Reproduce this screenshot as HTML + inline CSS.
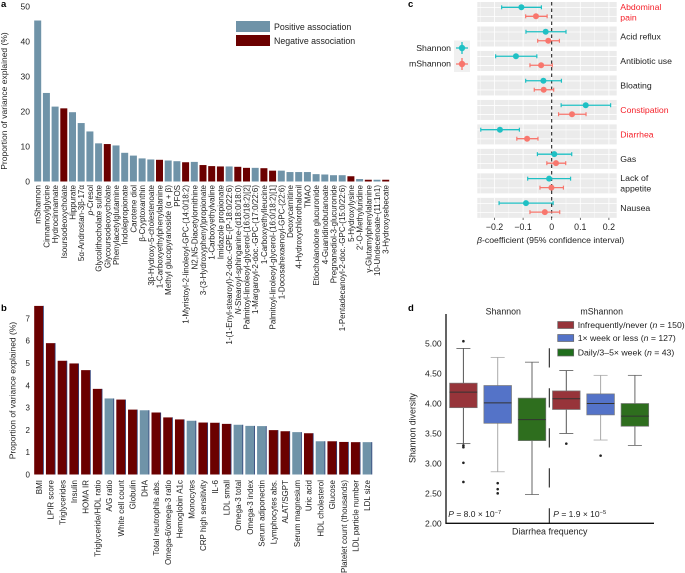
<!DOCTYPE html>
<html lang="en">
<head>
<meta charset="utf-8">
<title>Microbiome diversity associations</title>
<style>
html,body{margin:0;padding:0;background:#fff;overflow:hidden;}
svg{display:block;font-family:"Liberation Sans",Arial,sans-serif;filter:blur(.3px);}
text{fill:#222;}
</style>
</head>
<body>
<svg id="figure" width="685" height="573" viewBox="0 0 685 573" xmlns="http://www.w3.org/2000/svg">
  <rect width="685" height="573" fill="#fff"/>
  <g id="panel-a"></g>
  <g id="panel-b"></g>
  <g id="panel-c"></g>
  <g id="panel-d"></g>

  <text x="1" y="7" font-size="9.5" font-weight="bold" style="fill:#000">a</text>
  <text x="1" y="311" font-size="9.5" font-weight="bold" style="fill:#000">b</text>
  <text x="408" y="7" font-size="9.5" font-weight="bold" style="fill:#000">c</text>
  <text x="408" y="311" font-size="9.5" font-weight="bold" style="fill:#000">d</text>

  <text transform="translate(7 101) rotate(-90)" text-anchor="middle" font-size="8.5">Proportion of variance explained (%)</text>
  <text transform="translate(15.5 390.5) rotate(-90)" text-anchor="middle" font-size="8.5">Proportion of variance explained (%)</text>

  <g>
    <rect x="236" y="21" width="34" height="11" fill="#6f93a8"/>
    <text x="274" y="30" font-size="8.8">Positive association</text>
    <rect x="236" y="35" width="34" height="11" fill="#6b0000"/>
    <text x="274" y="44" font-size="8.8">Negative association</text>
  </g>

  <g>
    <rect x="454" y="40.5" width="16" height="15.5" fill="#f0f0f0"/>
    <rect x="454" y="56" width="16" height="16" fill="#f0f0f0"/>
    <path d="M456 48H468M462 42V54" stroke="#1fc0c4" stroke-width="1.3" fill="none"/>
    <circle cx="462" cy="48" r="3.2" fill="#1fc0c4"/>
    <path d="M456 64H468M462 58V70" stroke="#f8766d" stroke-width="1.3" fill="none"/>
    <circle cx="462" cy="64" r="3.2" fill="#f8766d"/>
    <text x="451" y="51" text-anchor="end" font-size="8.7">Shannon</text>
    <text x="451" y="66.5" text-anchor="end" font-size="8.7">mShannon</text>
  </g>
  <text x="477" y="243" font-size="8.7"><tspan font-style="italic">β</tspan>-coefficient (95% confidence interval)</text>

  <text x="503.3" y="314.5" text-anchor="middle" font-size="8.8">Shannon</text>
  <text x="601.7" y="314.5" text-anchor="middle" font-size="8.8">mShannon</text>
  <text transform="translate(415.5 428) rotate(-90)" text-anchor="middle" font-size="8.8">Shannon diversity</text>
  <text x="549.7" y="534.5" text-anchor="middle" font-size="8.9">Diarrhea frequency</text>
  <text x="448.3" y="517" font-size="8.5"><tspan font-style="italic">P</tspan> = 8.0 × 10<tspan dy="-3" font-size="5.8">−7</tspan></text>
  <text x="553.3" y="517" font-size="8.5"><tspan font-style="italic">P</tspan> = 1.9 × 10<tspan dy="-3" font-size="5.8">−5</tspan></text>
  <g>
    <rect x="557.7" y="321.5" width="16" height="7" fill="#97343a" stroke="#666" stroke-width=".7"/>
    <text x="577.7" y="328" font-size="8.7">Infrequently/never (<tspan font-style="italic">n</tspan> = 150)</text>
    <rect x="557.7" y="334.5" width="16" height="7" fill="#5473c8" stroke="#666" stroke-width=".7"/>
    <text x="577.7" y="341" font-size="8.7">1× week or less (<tspan font-style="italic">n</tspan> = 127)</text>
    <rect x="557.7" y="349" width="16" height="7" fill="#1f6e1c" stroke="#666" stroke-width=".7"/>
    <text x="577.7" y="355.5" font-size="8.7">Daily/3–5× week (<tspan font-style="italic">n</tspan> = 43)</text>
  </g>

<script>
// ---------- Panel a data ----------
const metaboliteNames = ["mShannon","Cinnamoylglycine","Hydrocinnamate","Isoursodeoxycholate","Hippurate","5α-Androstan-3β-17α","p-Cresol","Glycolithocholate sulfate","Glycoursodeoxycholate","Phenylacetylglutamine","Indolepropionate","Carotene diol","β-Cryptoxanthin","3β-Hydroxy-5-cholestenoate","1-Carboxyethylphenylalanine","Methyl glucopyranoside (α + β)","PFOS","1-Myristoyl-2-linoleoyl-GPC-(14:0/18:2)","N2,N5-Diacetylornithine","3-(3-Hydroxyphenyl)propionate","1-Carboxyethylvaline","Imidazole propionate","1-(1-Enyl-stearoyl)-2-doc.-GPE-(P-18:0/22:6)","N-Stearoyl-sphinganine-(d18:0/18:0)","Palmitoyl-linoleoyl-glycerol-(16:0/18:2)[2]","1-Margaroyl-2-doc.-GPC-(17:0/22:6)","1-Carboxyethylleucine","Palmitoyl-linoleoyl-glycerol-(16:0/18:2)[1]","1-Docosahexaenoyl-GPC-(22:6)","Deoxycarnitine","4-Hydroxychlorothalonil","TMAO","Etiocholanolone glucuronide","4-Guanidinobutanoate","Pregnanediol-3-glucuronide","1-Pentadecanoyl-2-doc.-GPC-(15:0/22:6)","5-Hydroxylysine","2′-O-Methyluridine","γ-Glutamylphenylalanine","10-Undecenoate-(11:1n1)","3-Hydroxysebecate"];
const metaboliteValues = [46,25.3,21.4,20.9,19.8,16.7,14.3,10.9,10.7,10.3,8.2,7.4,6.6,6.3,6.2,6.0,5.8,5.5,5.6,4.7,4.4,4.3,4.3,4.2,3.9,3.9,3.8,3.1,3.1,2.7,2.7,2.7,2.1,2.0,1.8,1.8,1.5,0.7,0.5,0.5,0.5];
const metaboliteNegative = [0,0,0,1,0,0,0,0,1,0,0,0,0,0,1,0,0,1,0,1,1,1,0,1,1,0,1,1,0,0,0,0,0,0,0,0,1,0,1,0,1];
const metaboliteTicks = [0,10,20,30,40,50];

// ---------- Panel b data ----------
const clinicalNames = ["BMI","LPIR score","Triglycerides","Insulin","HOMA IR","Triglyceride/HDL ratio","A/G ratio","White cell count","Globulin","DHA","Total neutrophils abs.","Omega-6/omega-3 ratio","Hemoglobin A1c","Monocytes","CRP high sensitivity","IL-6","LDL small","Omega-3 total","Omega-3 index","Serum adiponectin","Lymphocytes abs.","ALAT/SGPT","Serum magnesium","Uric acid","HDL cholesterol","Glucose","Platelet count (thousands)","LDL particle number","LDL size"];
const clinicalValues = [7.56,5.89,5.1,4.98,4.68,3.84,3.41,3.36,2.91,2.88,2.78,2.56,2.47,2.41,2.33,2.32,2.27,2.23,2.18,2.17,1.99,1.94,1.9,1.85,1.49,1.49,1.46,1.45,1.45];
const clinicalNegative = [1,1,1,1,1,1,0,1,1,0,1,1,1,0,1,1,1,0,0,0,1,1,0,1,0,1,1,1,0];
const clinicalTicks = [0,1,2,3,4,5,6,7];

// ---------- Panel c data ----------
const symptoms = ["Abdominal pain","Acid reflux","Antibiotic use","Bloating","Constipation","Diarrhea","Gas","Lack of appetite","Nausea"];
const symptomLines = [["Abdominal","pain"],["Acid reflux"],["Antibiotic use"],["Bloating"],["Constipation"],["Diarrhea"],["Gas"],["Lack of","appetite"],["Nausea"]];
const symptomHighlighted = [1,0,0,0,1,1,0,0,0];
const shannonBeta = [-0.106,-0.021,-0.125,-0.029,0.119,-0.181,0.009,-0.009,-0.09];
const shannonLow = [-0.175,-0.09,-0.196,-0.091,0.033,-0.248,-0.05,-0.084,-0.184];
const shannonHigh = [-0.036,0.05,-0.052,0.034,0.206,-0.113,0.07,0.066,0.005];
const mShannonBeta = [-0.055,-0.012,-0.037,-0.028,0.071,-0.086,0.015,-0.001,-0.024];
const mShannonLow = [-0.091,-0.049,-0.076,-0.061,0.024,-0.122,-0.017,-0.041,-0.076];
const mShannonHigh = [-0.016,0.027,0.002,0.007,0.12,-0.048,0.049,0.041,0.028];
const betaTicks = [-0.2,-0.1,0,0.1,0.2];
const betaTickLabels = ["−0.2","−0.1","0","0.1","0.2"];
const betaMinorTicks = [-0.25,-0.15,-0.05,0.05,0.15];

// ---------- Panel d data ----------
const boxQ3 = [4.34,4.30,4.09,4.21,4.16,4.00];
const boxMedian = [4.19,4.01,3.73,4.08,4.00,3.79];
const boxQ1 = [3.93,3.67,3.38,3.90,3.81,3.62];
const whiskerTop = [4.92,4.77,4.69,4.55,4.47,4.47];
const whiskerBottom = [3.33,2.86,2.48,3.50,3.39,3.30];
const boxOutliers = [[5.04,3.30,3.27,3.01,2.69],[2.67,2.57,2.50],[],[3.33],[3.13],[]];
const boxFrequency = ["infrequent","weekly","daily","infrequent","weekly","daily"];
const diversityTicks = [2,2.5,3,3.5,4,4.5,5];

// ---------- Axis functions ----------
const xA = i => 37.7 + i * 8.7;
const yA = v => 181.5 - v * 3.5;
const xB = i => 38.8 + i * 11.73;
const yB = v => 474.5 - v * 22.3;
const xC = v => 551.7 + v * 286;
const rowC = i => 12 + i * 24.48;
const xD = k => 463.4 + k * 34.3;
const yD = v => 523.3 - (v - 2) * 59.9;

const NS = "http://www.w3.org/2000/svg";
const POSITIVE = "#6f93a8", NEGATIVE = "#6b0000";
const CYAN = "#1fc0c4", SALMON = "#f8766d";
const boxFill = {infrequent:"#97343a", weekly:"#5473c8", daily:"#2e6e1e"};
const whiskerColor = {infrequent:"#555", weekly:"#aaa", daily:"#666"};

function add(parent, tag, attrs, content) {
  const el = document.createElementNS(NS, tag);
  for (const k in attrs) el.setAttribute(k, attrs[k]);
  if (content !== undefined) el.textContent = content;
  parent.appendChild(el);
  return el;
}
function line(parent, x1, y1, x2, y2, stroke, width) {
  return add(parent, "line", {x1, y1, x2, y2, stroke, "stroke-width": width});
}
function rotatedLabel(parent, x, y, str, size) {
  const t = add(parent, "text", {transform: `translate(${x} ${y}) rotate(-90)`, "text-anchor": "end", "font-size": size});
  const m = /^(p|N)-/.test(str);
  if (m) {
    const it = add(t, "tspan", {"font-style": "italic"}, str[0]);
    
    
    t.appendChild(document.createTextNode(str.slice(1)));
  } else {
    t.textContent = str;
  }
  return t;
}

// ---------- Draw panel a ----------
const pa = document.getElementById("panel-a");
metaboliteTicks.forEach(v => {
  const t = add(pa, "text", {x: 30, y: yA(v) + 3, "text-anchor": "end", "font-size": 8.5}, String(v));
  
  
});
metaboliteValues.forEach((v, i) => {
  const bar = add(pa, "rect", {x: xA(i) - 3.5, y: yA(v), width: 7, height: yA(0) - yA(v), fill: metaboliteNegative[i] ? NEGATIVE : POSITIVE});
  
  
  const lab = rotatedLabel(pa, xA(i) + 3, 185, metaboliteNames[i], 8);
  
  
});

// ---------- Draw panel b ----------
const pb = document.getElementById("panel-b");
clinicalTicks.forEach(v => {
  const t = add(pb, "text", {x: 30, y: yB(v) + 3, "text-anchor": "end", "font-size": 8}, String(v));
  
  
});
clinicalValues.forEach((v, i) => {
  const bar = add(pb, "rect", {x: xB(i) - 4.6, y: yB(v), width: 9.2, height: yB(0) - yB(v), fill: clinicalNegative[i] ? NEGATIVE : POSITIVE});
  
  
  const edge = line(pb, xB(i) + 4.6, yB(v), xB(i) + 4.6, yB(0), "#2c3f78", 0.8);
  
  
  const lab = rotatedLabel(pb, xB(i) + 3, 480, clinicalNames[i], 8);
  
  
});

// ---------- Draw panel c ----------
const pc = document.getElementById("panel-c");
const C_LEFT = 477.3, C_RIGHT = 616.7;
symptoms.forEach((s, i) => {
  const c = rowC(i);
  const strip = add(pc, "rect", {x: C_LEFT, y: c - 10, width: C_RIGHT - C_LEFT, height: 20, fill: "#ebebeb"});
  
  
  betaMinorTicks.forEach(v => {
    const g = line(pc, xC(v), c - 10, xC(v), c + 10, "#fff", 0.4);
    
    
  });
  betaTicks.forEach(v => {
    const g = line(pc, xC(v), c - 10, xC(v), c + 10, "#fff", 0.8);
    
    
  });
  [-4.5, 4.5].forEach(d => {
    const g = line(pc, C_LEFT, c + d, C_RIGHT, c + d, "#fff", 0.8);
    
    
  });
  const lines = symptomLines[i];
  lines.forEach((ln, j) => {
    const t = add(pc, "text", {x: 620.3, y: c + 3 + (j - (lines.length - 1) / 2) * 10.5, "font-size": 8.7}, ln);
    t.style.fill = symptomHighlighted[i] ? "#f5212a" : "#222";
    
    
  });
});
const zeroLine = line(pc, xC(0), 2, xC(0), 218, "#111", 1);
zeroLine.setAttribute("stroke-dasharray", "3.5 3");


function interval(i, low, beta, high, d, color, nameStem) {
  const y = rowC(i) + d;
  const h = line(pc, xC(low), y, xC(high), y, color, 1.3);
  
  
  const c1 = line(pc, xC(low), y - 2, xC(low), y + 2, color, 1.2);
  
  
  const c2 = line(pc, xC(high), y - 2, xC(high), y + 2, color, 1.2);
  
  
  const p = add(pc, "circle", {cx: xC(beta), cy: y, r: 3, fill: color});
  
  
}
symptoms.forEach((s, i) => {
  interval(i, shannonLow[i], shannonBeta[i], shannonHigh[i], -4.7, CYAN, 'shannon');
  interval(i, mShannonLow[i], mShannonBeta[i], mShannonHigh[i], 4.3, SALMON, 'mshannon');
});
betaTicks.forEach((v, i) => {
  const tick = line(pc, xC(v), 217.8, xC(v), 220, "#333", 0.7);
  
  
  const t = add(pc, "text", {x: xC(v), y: 230, "text-anchor": "middle", "font-size": 8.8}, betaTickLabels[i]);
  
  
});

// ---------- Draw panel d ----------
const pd = document.getElementById("panel-d");
const yAxisD = line(pd, 446, 314, 446, 523.3, "#111", 1.3);


const xAxisD = line(pd, 445.4, 523.3, 654, 523.3, "#111", 1.3);


diversityTicks.forEach(v => {
  const t = add(pd, "text", {x: 441.7, y: yD(v) + 3, "text-anchor": "end", "font-size": 8.6}, v.toFixed(2));
  
  
});
const divider = line(pd, 549.3, 348.3, 549.3, 523.3, "#111", 1);
divider.setAttribute("stroke-dasharray", "19.2 20.8");


boxQ3.forEach((q3, k) => {
  const cx = xD(k), f = boxFrequency[k], w = whiskerColor[f];
  const wt = line(pd, cx, yD(whiskerTop[k]), cx, yD(q3), w, 1);
  
  
  const wb = line(pd, cx, yD(boxQ1[k]), cx, yD(whiskerBottom[k]), w, 1);
  
  
  const ct = line(pd, cx - 7, yD(whiskerTop[k]), cx + 7, yD(whiskerTop[k]), w, 0.8);
  
  
  const cb = line(pd, cx - 7, yD(whiskerBottom[k]), cx + 7, yD(whiskerBottom[k]), w, 0.8);
  
  
  const b = add(pd, "rect", {x: cx - 13.8, y: yD(q3), width: 27.6, height: yD(boxQ1[k]) - yD(q3), fill: boxFill[f], stroke: "#777", "stroke-width": 0.7});
  
  
  const m = line(pd, cx - 13.8, yD(boxMedian[k]), cx + 13.8, yD(boxMedian[k]), "#333", 1);
  
  
  boxOutliers[k].forEach(o => {
    const c = add(pd, "circle", {cx: cx, cy: yD(o), r: 1.3, fill: "#222"});
    
    
  });
});
</script>
</svg>
</body>
</html>
